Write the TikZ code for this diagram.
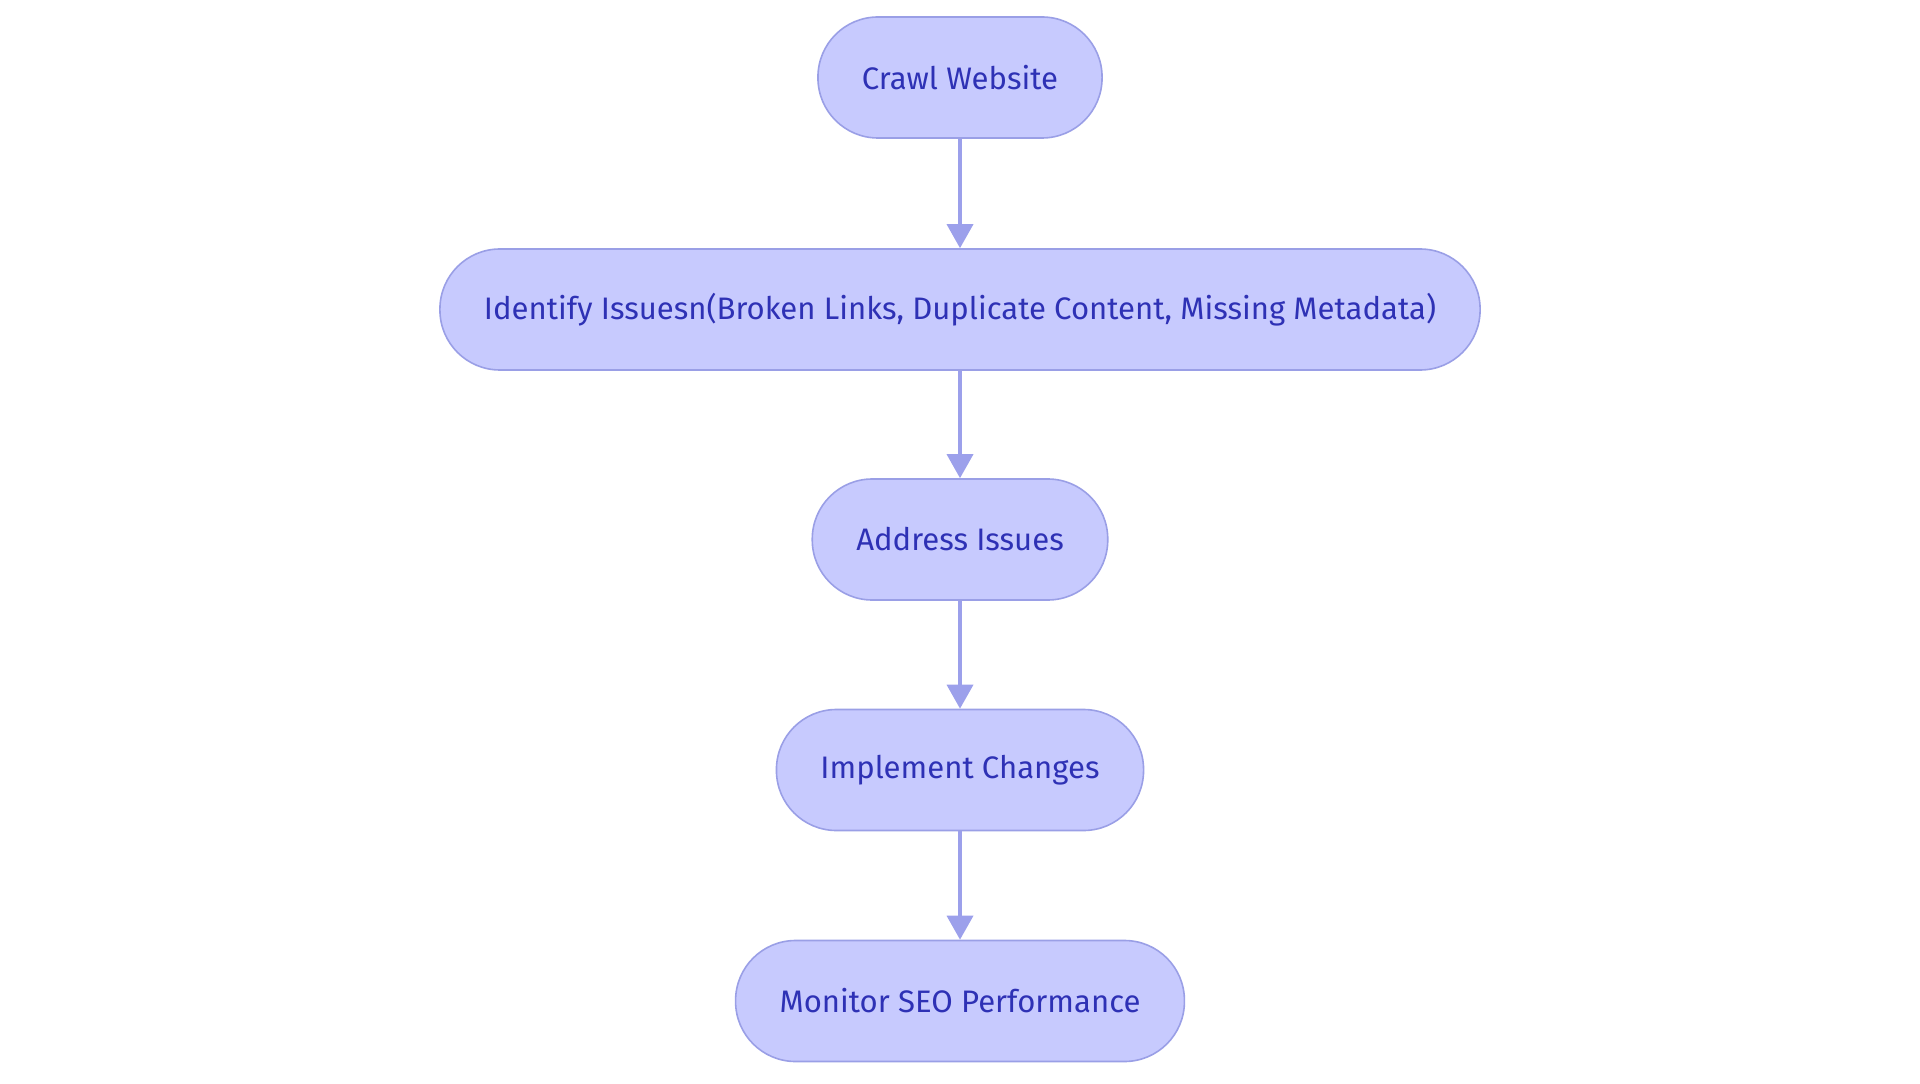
\documentclass[tikz,border=0pt]{standalone}
\usepackage{fontspec}
\setmainfont{Fira Sans}
\usepackage{tikz}
\usetikzlibrary{arrows.meta}
\usetikzlibrary{shapes}

\definecolor{stepfill}{HTML}{C7CAFE}
\definecolor{stepline}{HTML}{9A9FE6}
\definecolor{steptext}{HTML}{2E31B5}
\definecolor{arrowline}{HTML}{9CA0EB}

\begin{document}
\begin{tikzpicture}[>={Triangle[length=12pt,width=13pt]},line join=bevel,
  stepnode/.style={draw=stepline,fill=stepfill,text=steptext,line width=0.8pt,
    rounded corners=30pt,minimum height=60.5pt,inner xsep=22pt,
    font=\fontsize{15.55pt}{18pt}\selectfont},
  ]
%%
\useasboundingbox (0pt,0pt) rectangle (960pt,541.5pt);
\node (node_0) at (480pt,502.75pt) [stepnode] {Crawl Website};
  \node (node_1) at (480pt,386.75pt) [stepnode] {Identify Issuesn(Broken Links, Duplicate Content, Missing Metadata)};
  \node (node_2) at (480pt,271.75pt) [stepnode] {Address Issues};
  \node (node_3) at (480pt,156.5pt) [stepnode] {Implement Changes};
  \node (node_4) at (480pt,41pt) [stepnode] {Monitor SEO Performance};
  \draw [arrowline,line width=1.8pt,->] (node_0) -- (node_1);
  \draw [arrowline,line width=1.8pt,->] (node_1) -- (node_2);
  \draw [arrowline,line width=1.8pt,->] (node_2) -- (node_3);
  \draw [arrowline,line width=1.8pt,->] (node_3) -- (node_4);
%
\end{tikzpicture}
\end{document}
